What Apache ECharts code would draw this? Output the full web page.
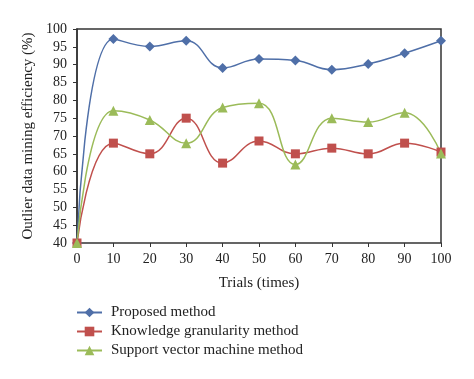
<!DOCTYPE html>
<html><head><meta charset="utf-8">
<script src="https://cdn.jsdelivr.net/npm/echarts@6/dist/echarts.min.js"></script>
<style>html,body{margin:0;padding:0;background:#fff}#c{width:474px;height:379px}</style>
</head><body><div id="c"></div>
<script>
var trials = [0,10,20,30,40,50,60,70,80,90,100];
var proposed = [40,97.2,95.1,96.7,89.1,91.6,91.2,88.6,90.2,93.2,96.7];
var knowledge = [40,68,65,75,62.4,68.6,65,66.6,65,68,65.5];
var svm = [40,77.1,74.5,68,78,79.2,62,75,73.9,76.5,65.1];
var seriesNames = ['Proposed method','Knowledge granularity method','Support vector machine method'];
function pairs(arr){return trials.map(function(t,i){return [t,arr[i]];});}
var font = 'Liberation Serif';
var chart = echarts.init(document.getElementById('c'));
var colors = ['#4f6fa8','#c0504d','#9bbb59'];
chart.setOption({
  animation:false,
  color:colors,
  grid:{left:77,right:33,top:29,bottom:136},
  legend:{orient:'vertical',left:71,top:300,itemGap:4,itemWidth:25,itemHeight:12,
    textStyle:{fontFamily:font,fontSize:15,color:'#222',padding:[0,0,0,4]},
    data:seriesNames},
  xAxis:{type:'value',min:0,max:100,interval:10,
    name:'Trials (times)',nameLocation:'middle',nameGap:33,
    nameTextStyle:{fontFamily:font,fontSize:15,color:'#222'},
    axisLine:{lineStyle:{color:'#333',width:1.5}},
    axisTick:{show:true,length:4,lineStyle:{color:'#333'}},
    axisLabel:{fontFamily:font,fontSize:14,color:'#222',margin:9},
    splitLine:{show:false}},
  yAxis:{type:'value',min:40,max:100,interval:5,
    name:'Outlier data mining efficiency (%)',nameLocation:'middle',nameGap:40,
    nameTextStyle:{fontFamily:font,fontSize:15,color:'#222'},
    axisLine:{show:true,lineStyle:{color:'#333',width:1.5}},
    axisTick:{show:true,length:4,lineStyle:{color:'#333'}},
    axisLabel:{fontFamily:font,fontSize:14,color:'#222',margin:10},
    splitLine:{show:false}},
  series:[
    {name:seriesNames[0],type:'line',smooth:0.45,data:pairs(proposed),symbol:'diamond',symbolSize:10,
      lineStyle:{width:1.5},itemStyle:{color:colors[0]}},
    {name:seriesNames[1],type:'line',smooth:0.45,data:pairs(knowledge),symbol:'rect',symbolSize:9,
      lineStyle:{width:1.5},itemStyle:{color:colors[1]}},
    {name:seriesNames[2],type:'line',smooth:0.45,data:pairs(svm),symbol:'triangle',symbolSize:10,
      lineStyle:{width:1.5},itemStyle:{color:colors[2]}}
  ],
  graphic:[{type:'polyline',silent:true,z:0,shape:{points:[[77,243],[77,29],[441,29],[441,243]]},style:{stroke:'#333',lineWidth:1.5,fill:null}}]
});
</script></body></html>
